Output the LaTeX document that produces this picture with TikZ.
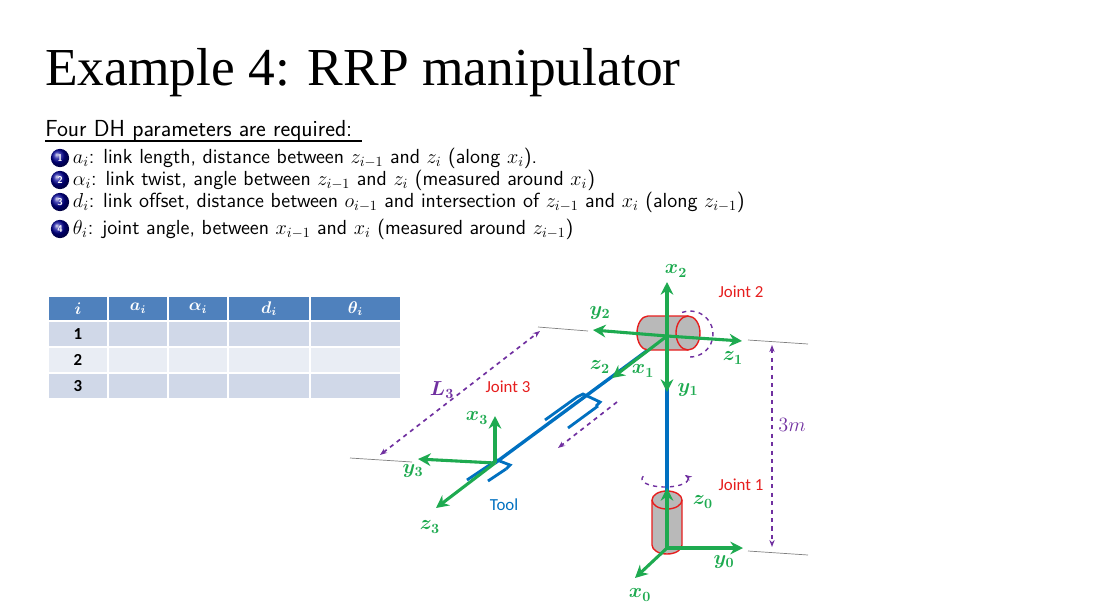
\documentclass[tikz,border=0pt]{standalone}
\usepackage{amsmath,amssymb,bm}
\usepackage{fontspec}
\setmainfont{Liberation Serif}
\newfontfamily\calib{Carlito}
\usetikzlibrary{arrows.meta,positioning,shadings}
\definecolor{axgreen}{RGB}{30,170,80}
\definecolor{linkblue}{RGB}{0,112,192}
\definecolor{jred}{RGB}{230,30,30}
\definecolor{dpurple}{RGB}{112,48,160}
\definecolor{hdblue}{RGB}{79,129,189}
\definecolor{rowa}{RGB}{208,216,232}
\definecolor{rowb}{RGB}{233,237,244}
\begin{document}
\begin{tikzpicture}
	% Styles
	[x=0.025cm, y=-0.025cm,
	axis/.style={draw=axgreen, line width=2.2pt, -{Stealth[length=9pt,width=9pt]}},
	link/.style={draw=linkblue, line width=2.4pt},
	grip/.style={draw=linkblue, line width=2pt},
	cyl/.style={draw=jred, fill=gray!55, line width=1pt},
	ground/.style={draw=gray, line width=0.5pt},
	dim/.style={draw=dpurple, dashed, line width=1.2pt, -{Stealth[length=5pt]}},
	axlab/.style={text=axgreen, font=\Large},
	jlab/.style={text=jred, font=\calib\large},
	bul/.style={circle, inner sep=0pt, minimum size=13pt, ball color=blue!60!black, text=white, font=\sffamily\scriptsize\bfseries},
	item/.style={anchor=west, font=\sffamily\fontsize{14.5}{16}\selectfont},
	hd/.style={fill=hdblue, draw=white, line width=1pt, text=white, font=\large},
	cell/.style={draw=white, line width=1pt, font=\calib\large\bfseries}
	]
	\useasboundingbox (0,0) rectangle (1106,607);

	% Title and text
	\node[anchor=base west, inner sep=0pt, font=\fontsize{38}{40}\selectfont] (title) at (45,85) {Example 4: RRP manipulator};
	\node[anchor=base west, inner sep=0pt, font=\sffamily\fontsize{16.5}{18}\selectfont] (head) at (45,136) {Four DH parameters are required:};
	\draw[line width=0.8pt] (45,141) -- (362,141);
	\node[bul] (b1) at (60,158) {1};
	\node[bul] (b2) at (60,180) {2};
	\node[bul] (b3) at (60,202) {3};
	\node[bul] (b4) at (60,229) {4};
	\node[item] at (68,158) {$a_i$: link length, distance between $z_{i-1}$ and $z_i$ (along $x_i$).};
	\node[item] at (68,180) {$\alpha_i$: link twist, angle between $z_{i-1}$ and $z_i$ (measured around $x_i$)};
	\node[item] at (68,202) {$d_i$: link offset, distance between $o_{i-1}$ and intersection of $z_{i-1}$ and $x_i$ (along $z_{i-1}$)};
	\node[item] at (68,229) {$\theta_i$: joint angle, between $x_{i-1}$ and $x_i$ (measured around $z_{i-1}$)};

	% Table
	\foreach \xa/\xb/\t in {48/108/i, 108/168/a_i, 168/228/\alpha_i, 228/310/d_i, 310/401/\theta_i}
		\draw[hd] (\xa,296) rectangle (\xb,321) node[midway] {$\bm{\t}$};
	\foreach \r/\ya/\yb/\c in {1/321/347/rowa, 2/347/373/rowb, 3/373/399/rowa} {
		\draw[cell, fill=\c] (48,\ya) rectangle (108,\yb) node[midway] {\r};
		\foreach \xa/\xb in {108/168, 168/228, 228/310, 310/401}
			\draw[cell, fill=\c] (\xa,\ya) rectangle (\xb,\yb);
	}

	% Points
	\coordinate (o0) at (667,548);
	\coordinate (o1) at (667,336);
	\coordinate (o3) at (495,463);
	\coordinate (x0) at (635,578);
	\coordinate (y0) at (743,548);
	\coordinate (z0) at (667,488);
	\coordinate (x2) at (667,282);
	\coordinate (y2) at (593,330);
	\coordinate (z1) at (742,341);
	\coordinate (y1) at (667,392);
	\coordinate (z2) at (612,378);
	\coordinate (x3) at (495,416);
	\coordinate (y3) at (418,459);
	\coordinate (z3) at (436,508);

	% Ground lines
	\draw[ground] (538,327) -- (588,331);
	\draw[ground] (748,340) -- (808,344);
	\draw[ground] (350,458) -- (412,462);
	\draw[ground] (748,551) -- (808,555);

	% Joint 1
	\draw[cyl] (652,500) -- (652,545) arc[start angle=180, end angle=0, x radius=15, y radius=9] -- (682,500);
	\draw[cyl] (667,500) ellipse[x radius=15, y radius=9];
	\draw[dpurple, dashed, line width=1pt, -{Stealth[length=5pt]}] plot[domain=200:-30, samples=40, smooth] ({665+23*cos(\x)},{479+8*sin(\x)});

	% Links
	\draw[link] (o0) -- (o1);
	\draw[link] (o1) -- (o3);

	% Joint 2
	\draw[cyl] (688,316) -- (648,316) arc[start angle=270, end angle=90, x radius=11, y radius=17] -- (688,350);
	\draw[cyl] (688,333) ellipse[x radius=12, y radius=17];
	\draw[dpurple, dashed, line width=1pt] (690,334) ++(250:23) arc[start angle=250, end angle=460, radius=23];

	% Grippers
	\draw[grip] (545,420) -- (577,397) -- (583,394) -- (600,402) -- (596,406);
	\draw[grip] (568,428) -- (598,406);
	\draw[grip] (467,480) -- (497,460) -- (510,465) -- (506,469);
	\draw[grip] (488,481) -- (506,469);

	% Axes
	\draw[axis] (o0) -- (x0);
	\draw[axis] (o0) -- (y0);
	\draw[axis] (o0) -- (z0);
	\draw[axis] (o1) -- (x2);
	\draw[axis] (o1) -- (y2);
	\draw[axis] (o1) -- (z1);
	\draw[axis] (o1) -- (y1);
	\draw[axis] (o1) -- (z2);
	\draw[axis] (o3) -- (x3);
	\draw[axis] (o3) -- (y3);
	\draw[axis] (o3) -- (z3);

	% Dimensions
	\draw[dim, {Stealth[length=5pt]}-{Stealth[length=5pt]}] (380,455) -- (540,331);
	\draw[dim] (617,402) -- (558,448);
	\draw[dim, {Stealth[length=5pt]}-{Stealth[length=5pt]}] (772,345) -- (772,547);

	% Labels
	\node[axlab] at (676,271) {$\bm{x_2}$};
	\node[axlab] at (600,313) {$\bm{y_2}$};
	\node[axlab] at (733,358) {$\bm{z_1}$};
	\node[axlab] at (688,390) {$\bm{y_1}$};
	\node[axlab] at (600,367) {$\bm{z_2}$};
	\node[axlab] at (643,371) {$\bm{x_1}$};
	\node[axlab] at (477,418) {$\bm{x_3}$};
	\node[axlab] at (413,471) {$\bm{y_3}$};
	\node[axlab] at (430,527) {$\bm{z_3}$};
	\node[axlab] at (703,502) {$\bm{z_0}$};
	\node[axlab] at (724,562) {$\bm{y_0}$};
	\node[axlab] at (640,595) {$\bm{x_0}$};
	\node[jlab] at (741,292) {Joint 2};
	\node[jlab] at (741,485) {Joint 1};
	\node[jlab] at (508,387) {Joint 3};
	\node[text=linkblue, font=\calib\large] at (504,505) {Tool};
	\node[text=dpurple, font=\Large] at (442,390) {$\bm{L_3}$};
	\node[text=dpurple, font=\Large] at (792,425) {$3m$};
\end{tikzpicture}
\end{document}
